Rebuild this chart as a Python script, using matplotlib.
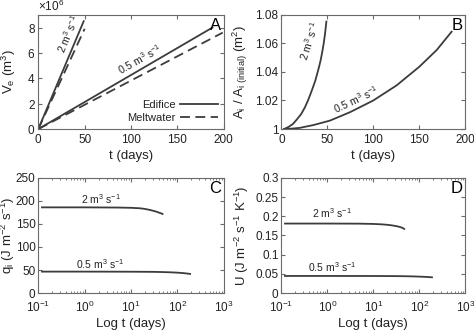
import matplotlib.pyplot as plt
import matplotlib.ticker as mticker

plt.rcParams['font.family'] = ['Liberation Sans', 'DejaVu Sans']
plt.rcParams['mathtext.fontset'] = 'custom'
plt.rcParams['mathtext.rm'] = 'Liberation Sans'
plt.rcParams['mathtext.it'] = 'Liberation Sans'

LINE = '#3c3c3c'
SPINE = '#6a6a6a'

# Panel A: erupted edifice and meltwater volumes (m^3) vs time (days)
t_vol_05 = [0, 188]
edifice_05 = [0, 8.0e6]
t_melt_05 = [0, 199]
melt_05 = [0, 7.6e6]
t_vol_2 = [0, 49]
edifice_2 = [0, 8.5e6]
t_melt_2 = [0, 50]
melt_2 = [0, 7.9e6]

# Panel B: normalised interface area
t_area_2 = [3, 8, 12.7, 17, 21.7, 25.5, 29, 32, 34.5, 37, 39.1, 41, 42.8,
            44.5, 46.1, 47.6, 49]
area_2 = [1.0, 1.0015, 1.0036, 1.0068, 1.0106, 1.015, 1.020, 1.025, 1.0294,
          1.034, 1.0389, 1.0435, 1.0483, 1.054, 1.060, 1.067, 1.0753]
t_area_05 = [3, 10, 20, 35, 52.9, 74.7, 100, 125.4, 150, 168.9, 185.2]
area_05 = [1.0, 1.0002, 1.0008, 1.0028, 1.0059, 1.0118, 1.020, 1.0306,
           1.0436, 1.0553, 1.0682]

# Panel C: heat flux q_i (J m^-2 s^-1)
t_q_2 = [0.12, 1, 5, 10, 15.6, 20, 25.6, 30, 35.3, 40, 44, 48]
q_2 = [186, 186, 185.6, 185, 184, 182.6, 180.4, 178.6, 176.7, 174.6, 173.2, 171.7]
t_q_05 = [0.12, 1, 10, 30, 50, 80, 110, 140, 165, 189]
q_05 = [46.5, 46.5, 46.3, 46, 45.5, 44.8, 44, 43.1, 42.3, 41.5]

# Panel D: heat transfer coefficient U (J m^-2 s^-1 K^-1)
t_u_2 = [0.12, 1, 5, 10, 15, 20, 25, 30, 35, 40, 44, 47]
u_2 = [0.181, 0.181, 0.1807, 0.180, 0.179, 0.1778, 0.1764, 0.1748, 0.1732,
       0.1712, 0.1692, 0.167]
t_u_05 = [0.12, 1, 10, 30, 50, 80, 110, 140, 165, 189]
u_05 = [0.0445, 0.0445, 0.0444, 0.0441, 0.0438, 0.0432, 0.0426, 0.0420,
        0.0415, 0.041]

fig = plt.figure(figsize=(4.74, 3.30), dpi=100)
axA = fig.add_axes([0.0808, 0.609, 0.391, 0.346])
axB = fig.add_axes([0.5935, 0.609, 0.388, 0.346])
axC = fig.add_axes([0.0808, 0.112, 0.391, 0.349])
axD = fig.add_axes([0.5935, 0.112, 0.388, 0.349])

for ax in (axA, axB, axC, axD):
    ax.tick_params(which='both', direction='in', top=True, right=True,
                   labelsize=8.5, color=SPINE, labelcolor='#222222')
    ax.tick_params(axis='y', pad=2)
    ax.tick_params(axis='x', pad=3.5)
    ax.tick_params(which='major', length=3)
    ax.tick_params(which='minor', length=1.6)
    for s in ax.spines.values():
        s.set_color(SPINE)
        s.set_linewidth(0.8)

lw = 1.3
ann = dict(ha='center', va='center', fontsize=7.5, color='#222222')
lab = dict(fontsize=9.5, color='#222222')

# A
axA.plot(t_vol_05, edifice_05, color=LINE, lw=lw, label='Edifice')
axA.plot(t_melt_05, melt_05, color=LINE, lw=lw, ls=(0, (5.5, 3)), label='Meltwater')
axA.plot(t_vol_2, edifice_2, color=LINE, lw=lw)
axA.plot(t_melt_2, melt_2, color=LINE, lw=lw, ls=(0, (5.5, 3)))
axA.set_xlim(0, 200)
axA.set_ylim(0, 9e6)
axA.set_xticks([0, 50, 100, 150, 200])
axA.set_yticks([0, 2e6, 4e6, 6e6, 8e6])
fmt = mticker.ScalarFormatter(useMathText=True)
fmt.set_powerlimits((0, 0))
axA.yaxis.set_major_formatter(fmt)
axA.yaxis.get_offset_text().set_fontsize(8.5)
axA.set_xlabel('t (days)', labelpad=3, **lab)
axA.set_ylabel(r'V$_\mathregular{e}$ (m$^\mathregular{3}$)', **lab)
axA.yaxis.set_label_coords(-0.11, 0.5)
axA.legend(loc='lower right', frameon=False, markerfirst=False, fontsize=8,
           handlelength=3.4, handletextpad=0.4, labelspacing=0.25,
           borderaxespad=0.15, labelcolor='#222222')
axA.text(32, 7.5e6, r'2 m$^3$ s$^{-1}$', rotation=67, **ann)
axA.text(110, 5.5e6, r'0.5 m$^3$ s$^{-1}$', rotation=29, **ann)
axA.text(0.985, 0.97, 'A', transform=axA.transAxes, ha='right', va='top', fontsize=12)

# B
axB.plot(t_area_2, area_2, color=LINE, lw=lw)
axB.plot(t_area_05, area_05, color=LINE, lw=lw)
axB.set_xlim(0, 200)
axB.set_ylim(1, 1.08)
axB.set_xticks([0, 50, 100, 150, 200])
axB.set_yticks([1, 1.02, 1.04, 1.06, 1.08])
axB.yaxis.set_major_formatter(mticker.FormatStrFormatter('%g'))
axB.set_xlabel('t (days)', labelpad=3, **lab)
axB.set_ylabel(r'A$_\mathregular{i}$ / A$_\mathregular{i\ (initial)}$ (m$^\mathregular{2}$)', **lab)
axB.yaxis.set_label_coords(-0.17, 0.5)
axB.text(31, 1.062, r'2 m$^3$ s$^{-1}$', rotation=72, **ann)
axB.text(81, 1.0205, r'0.5 m$^3$ s$^{-1}$', rotation=25, **ann)
axB.text(0.985, 0.97, 'B', transform=axB.transAxes, ha='right', va='top', fontsize=12)

# C
axC.semilogx(t_q_2, q_2, color=LINE, lw=lw)
axC.semilogx(t_q_05, q_05, color=LINE, lw=lw)
axC.set_xlim(0.1, 1000)
axC.set_ylim(0, 250)
axC.set_yticks([0, 50, 100, 150, 200, 250])
axC.set_xlabel('Log t (days)', labelpad=2, **lab)
axC.set_ylabel(r'q$_\mathregular{i}$ (J m$^{-2}$ s$^{-1}$)', **lab)
axC.yaxis.set_label_coords(-0.115, 0.5)
axC.text(2.2, 203, r'2 m$^3$ s$^{-1}$', **ann)
axC.text(2.2, 63, r'0.5 m$^3$ s$^{-1}$', **ann)
axC.text(0.985, 0.97, 'C', transform=axC.transAxes, ha='right', va='top', fontsize=12)

# D
axD.semilogx(t_u_2, u_2, color=LINE, lw=lw)
axD.semilogx(t_u_05, u_05, color=LINE, lw=lw)
axD.set_xlim(0.1, 1000)
axD.set_ylim(0, 0.3)
axD.set_yticks([0, 0.05, 0.1, 0.15, 0.2, 0.25, 0.3])
axD.yaxis.set_major_formatter(mticker.FormatStrFormatter('%g'))
axD.set_xlabel('Log t (days)', labelpad=2, **lab)
axD.set_ylabel(r'U (J m$^{-2}$ s$^{-1}$ K$^{-1}$)', **lab)
axD.yaxis.set_label_coords(-0.165, 0.5)
axD.text(1.25, 0.208, r'2 m$^3$ s$^{-1}$', **ann)
axD.text(1.3, 0.0675, r'0.5 m$^3$ s$^{-1}$', **ann)
axD.text(0.985, 0.97, 'D', transform=axD.transAxes, ha='right', va='top', fontsize=12)

for ax in (axC, axD):
    ax.tick_params(axis='x', pad=5)
    ax.xaxis.set_minor_locator(mticker.LogLocator(base=10, subs=range(2, 10), numticks=20))
    ax.xaxis.set_minor_formatter(mticker.NullFormatter())

fig.savefig('out.png', dpi=100)
